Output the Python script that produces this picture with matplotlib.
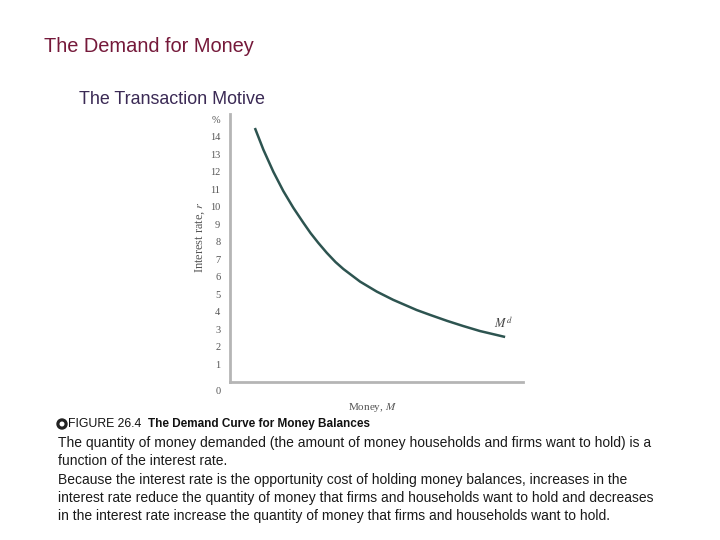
import matplotlib
matplotlib.use("Agg")
import matplotlib.pyplot as plt
from matplotlib.patches import Ellipse

# ---- data ----
money = [0.85, 1.14, 1.48, 1.82, 2.16, 2.50, 2.75, 3.01, 3.30, 3.60, 3.87,
         4.44, 5.01, 5.57, 6.37, 6.83, 7.41, 7.95, 8.53, 9.39]
rate = [14.50, 13.26, 12.00, 10.90, 9.95, 9.10, 8.50, 7.95, 7.38, 6.85, 6.45,
        5.73, 5.16, 4.69, 4.11, 3.83, 3.49, 3.20, 2.91, 2.57]
ytick_vals = list(range(1, 16))
ytick_labels = [str(v) for v in range(1, 15)] + ["%"]

title = "The Demand for Money"
subtitle = "The Transaction Motive"
fig_label = "FIGURE 26.4"
fig_caption = "The Demand Curve for Money Balances"
body_lines = [
    "The quantity of money demanded (the amount of money households and firms want to hold) is a",
    "function of the interest rate.",
    "Because the interest rate is the opportunity cost of holding money balances, increases in the",
    "interest rate reduce the quantity of money that firms and households want to hold and decreases",
    "in the interest rate increase the quantity of money that firms and households want to hold.",
]

W, H = 720, 540
plt.rcParams["mathtext.fontset"] = "stix"
fig = plt.figure(figsize=(W / 100, H / 100), dpi=100)
fig.patch.set_facecolor("white")


def fx(px):
    return px / W


def fy(py):
    return 1 - py / H


ax = fig.add_axes([fx(230), fy(382), (523 - 230) / W, (382 - 114) / H])
ax.plot(money, rate, color="#2d5450", lw=1.8, solid_capstyle="butt",
        solid_joinstyle="round")
ax.set_xlim(0, 10)
ax.set_ylim(0, 15.3)
for s in ["top", "right"]:
    ax.spines[s].set_visible(False)
for s in ["left", "bottom"]:
    ax.spines[s].set_color("#b5b5b5")
    ax.spines[s].set_linewidth(2)
ax.set_xticks([])
ax.set_yticks(ytick_vals)
ax.set_yticklabels(ytick_labels, family="Liberation Serif", fontsize=7.5,
                   color="#555555")
ax.tick_params(axis="y", length=0, pad=7)
ax.text(9.32, 3.37, r"$M^d$", fontsize=9, color="#444444", ha="center",
        va="center")

serif = "Liberation Serif"
fig.text(fx(218), fy(392), "0", family=serif, fontsize=7.5, color="#555555",
         ha="center", va="center")
fig.text(fx(200), fy(237), r"Interest rate, $r$", family=serif, fontsize=8.9,
         color="#555555", rotation=90, ha="center", va="center")
fig.text(fx(372), fy(407), r"Money, $M$", family=serif, fontsize=8,
         color="#555555", ha="center", va="center")

sans = ["Liberation Sans", "DejaVu Sans"]
fig.text(fx(44), fy(47), title, family=sans, fontsize=14.4, color="#75193a",
         ha="left", va="center")
fig.text(fx(79), fy(100), subtitle, family=sans, fontsize=12.9,
         color="#3b2a55", ha="left", va="center")

fig.add_artist(Ellipse((fx(62), fy(424)), width=10 / W, height=10 / H,
                       transform=fig.transFigure, color="#222222"))
fig.add_artist(Ellipse((fx(62), fy(424)), width=5 / W, height=5 / H,
                       transform=fig.transFigure, facecolor="white",
                       edgecolor="none"))
fig.text(fx(68), fy(424), fig_label, family=sans, fontsize=8.8,
         color="#111111", ha="left", va="center")
fig.text(fx(148), fy(424), fig_caption, family=sans, fontsize=8.5,
         weight="bold", color="#111111", ha="left", va="center")

ys = [443, 461, 480, 498, 516]
for y, line in zip(ys, body_lines):
    fig.text(fx(58), fy(y), line, family=sans, fontsize=10,
             color="#1a1a1a", ha="left", va="center")

fig.savefig("out.png", dpi=100)
